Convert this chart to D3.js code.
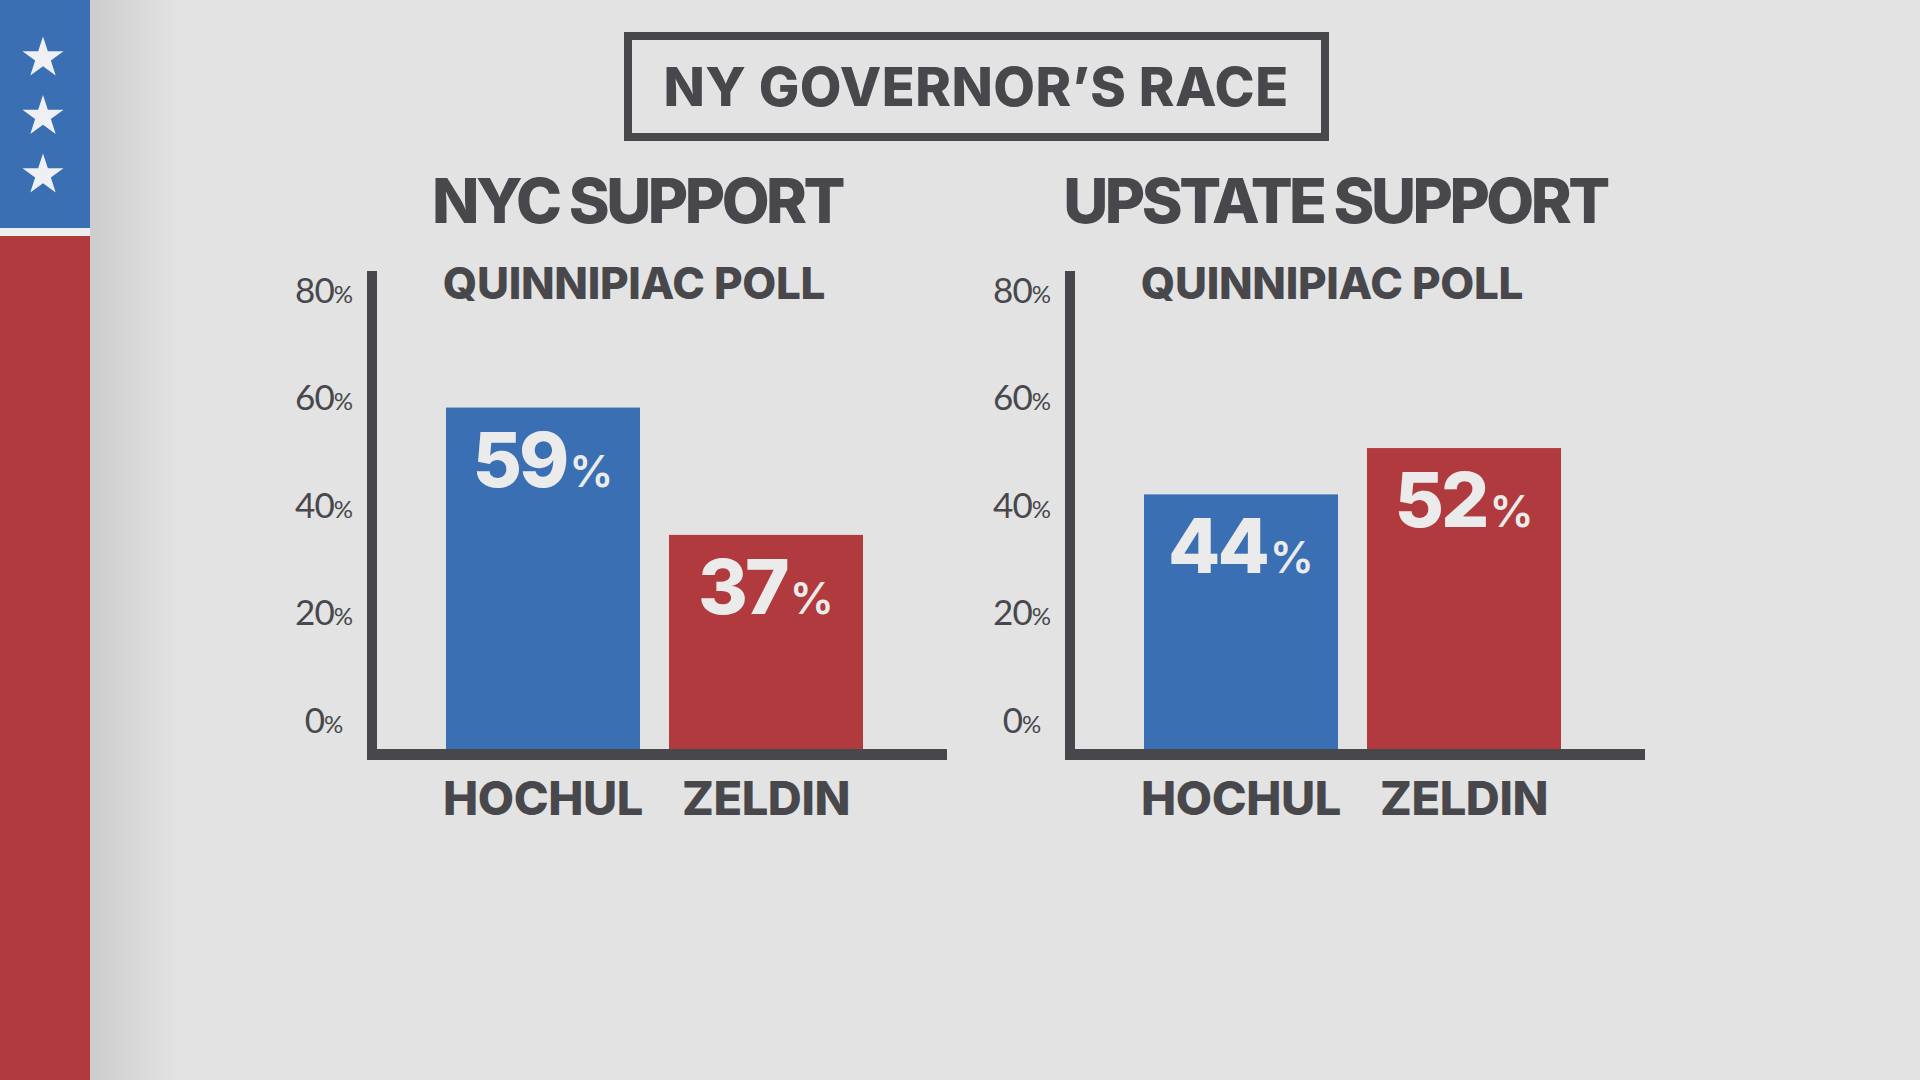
<!DOCTYPE html>
<html>
<head>
<meta charset="utf-8">
<script src="https://cdn.jsdelivr.net/npm/d3@7"></script>
<style>
  body { margin: 0; background: #e3e3e3; overflow: hidden; }
  svg { display: block; }
</style>
</head>
<body>
<div id="chart"></div>
<script>
let main_title = 'NY GOVERNOR\u2019S RACE';
let panel_titles = ['NYC SUPPORT', 'UPSTATE SUPPORT'];
let poll_name = 'QUINNIPIAC POLL';
let candidates = ['HOCHUL', 'ZELDIN'];
let nyc_values = [59, 37];
let upstate_values = [44, 52];
let tick_values = [0, 20, 40, 60, 80];

let chart_width = 1920;
let chart_height = 1080;
let blue = '#3a6fb4';
let red = '#b03a3d';
let ink = '#48484c';
let font = 'Inter, Lato, "Noto Sans", sans-serif';

let panels = [
  { title: panel_titles[0], values: nyc_values },
  { title: panel_titles[1], values: upstate_values }
];

let svg = d3
  .select('#chart')
  .append('svg')
  .attr('width', chart_width)
  .attr('height', chart_height);

let defs = svg.append('defs');
let shade = defs
  .append('linearGradient')
  .attr('id', 'shade')
  .attr('x1', 0)
  .attr('x2', 1);
shade.append('stop').attr('offset', 0).attr('stop-color', '#000').attr('stop-opacity', 0.1);
shade.append('stop').attr('offset', 1).attr('stop-color', '#000').attr('stop-opacity', 0);

svg
  .append('rect')
  .attr('width', chart_width)
  .attr('height', chart_height)
  .attr('fill', '#e3e3e3');

//left flag stripe
svg.append('rect').attr('x', 90).attr('width', 90).attr('height', chart_height).attr('fill', 'url(#shade)');
svg.append('rect').attr('width', 90).attr('height', 228).attr('fill', blue);
svg.append('rect').attr('y', 228).attr('width', 90).attr('height', 8).attr('fill', '#efefef');
svg.append('rect').attr('y', 236).attr('width', 90).attr('height', chart_height - 236).attr('fill', red);

let star = d3.symbol().type(d3.symbolStar).size(524);
svg
  .append('g')
  .selectAll('path')
  .data([0, 1, 2])
  .enter()
  .append('path')
  .attr('d', star)
  .attr('transform', d => 'translate(43,' + (58 + d * 58.5) + ')')
  .attr('fill', '#eef0f3');

//title box
svg
  .append('rect')
  .attr('x', 628)
  .attr('y', 36)
  .attr('width', 697)
  .attr('height', 101)
  .attr('fill', 'none')
  .attr('stroke', ink)
  .attr('stroke-width', 8);

svg
  .append('text')
  .attr('x', 976)
  .attr('y', 106)
  .attr('text-anchor', 'middle')
  .attr('font-family', font)
  .attr('font-weight', 800)
  .attr('font-size', 54)
  .attr('letter-spacing', 0.5)
  .attr('fill', ink)
  .text(main_title);

//scales shared by both panels
let x_scale = d3
  .scaleBand()
  .domain(candidates)
  .range([446, 863])
  .paddingInner(0.13);

let y_scale = d3
  .scaleLinear()
  .domain([0, 80])
  .range([749, 749 - 80 * 5.787]);

//tick labels sit on their own spacing in the graphic
let tick_scale = d3
  .scaleLinear()
  .domain([0, 80])
  .range([720, 290]);

let colors = d3.scaleOrdinal().domain(candidates).range([blue, red]);

panels.forEach((p, i) => {
  let g = svg.append('g').attr('transform', 'translate(' + i * 698 + ',0)');

  g.append('text')
    .attr('x', 637)
    .attr('y', 223)
    .attr('text-anchor', 'middle')
    .attr('font-family', font)
    .attr('font-weight', 800)
    .attr('font-size', 62)
    .attr('letter-spacing', -3.5)
    .attr('fill', ink)
    .text(p.title);

  g.append('text')
    .attr('x', 634)
    .attr('y', 299)
    .attr('text-anchor', 'middle')
    .attr('font-family', font)
    .attr('font-weight', 800)
    .attr('font-size', 44)
    .attr('letter-spacing', -0.3)
    .attr('fill', ink)
    .text(poll_name);

  //bars
  g.append('g')
    .selectAll('rect')
    .data(p.values)
    .enter()
    .append('rect')
    .attr('x', (d, j) => x_scale(candidates[j]))
    .attr('y', d => y_scale(d))
    .attr('width', x_scale.bandwidth())
    .attr('height', d => y_scale(0) - y_scale(d))
    .attr('fill', (d, j) => colors(candidates[j]));

  //value labels
  let labels = g
    .append('g')
    .selectAll('text')
    .data(p.values)
    .enter()
    .append('text')
    .attr('x', (d, j) => x_scale(candidates[j]) + x_scale.bandwidth() / 2)
    .attr('y', d => y_scale(d) + 79)
    .attr('text-anchor', 'middle')
    .attr('font-family', font)
    .attr('font-weight', 800)
    .attr('fill', '#ebebeb');
  labels.append('tspan').attr('font-size', 76).attr('letter-spacing', -3).text(d => d);
  labels.append('tspan').attr('font-size', 44).attr('font-weight', 600).attr('dx', 3).text('%');

  //axis frame
  g.append('rect').attr('x', 367).attr('y', 271).attr('width', 10).attr('height', 489).attr('fill', ink);
  g.append('rect').attr('x', 367).attr('y', 749).attr('width', 580).attr('height', 11).attr('fill', ink);

  //y tick labels
  let y_axis = d3
    .axisLeft(tick_scale)
    .tickValues(tick_values)
    .tickSize(0)
    .tickPadding(0);
  let ax = g
    .append('g')
    .attr('class', 'y-axis')
    .attr('transform', 'translate(324,0)')
    .call(y_axis);
  ax.select('.domain').remove();
  ax.selectAll('.tick text').each(function (d) {
    let t = d3.select(this);
    t.text(null)
      .attr('x', 0)
      .attr('dy', 12)
      .attr('text-anchor', 'middle')
      .attr('font-family', 'Lato, "Noto Sans", sans-serif')
      .attr('font-weight', 400)
      .attr('fill', ink);
    t.append('tspan').attr('font-size', 35).attr('letter-spacing', -1).text(d);
    t.append('tspan').attr('font-size', 24).text('%');
  });

  //category labels
  g.append('g')
    .selectAll('text')
    .data(candidates)
    .enter()
    .append('text')
    .attr('x', d => x_scale(d) + x_scale.bandwidth() / 2)
    .attr('y', 815)
    .attr('text-anchor', 'middle')
    .attr('font-family', font)
    .attr('font-weight', 800)
    .attr('font-size', 47)
    .attr('letter-spacing', -0.4)
    .attr('fill', ink)
    .text(d => d);
});
</script>
</body>
</html>
